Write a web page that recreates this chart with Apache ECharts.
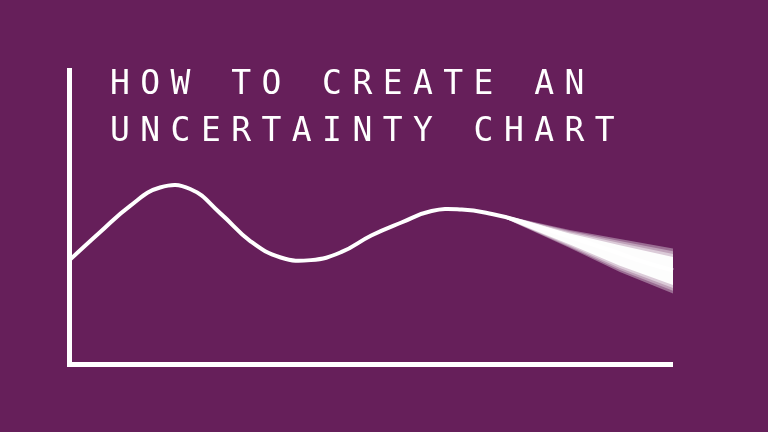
<!DOCTYPE html>
<html>
<head>
<meta charset="utf-8">
<script src="https://cdn.jsdelivr.net/npm/echarts@6/dist/echarts.min.js"></script>
<style>
html,body{margin:0;padding:0;background:#661F5A;}
#chart{width:768px;height:432px;}
</style>
</head>
<body>
<div id="chart"></div>
<script>
const TITLE_LINES = ['HOW TO CREATE AN', 'UNCERTAINTY CHART'];

// main curve (x: 0..100 along the axis, y: 0..100 up the axis)
const curveX = [0, 5, 10, 15, 20, 25, 30, 35, 40, 45, 50, 55, 60, 65, 70, 75, 80, 85, 90, 95, 100];
const curveY = [35.5, 44.9, 53.9, 60.2, 59.7, 51.4, 41.9, 36.4, 35.5, 38.2, 43.9, 48.3, 52.2, 52.7, 51.2, 48.6, 45.4, 42.0, 38.6, 35.0, 32.0];

// uncertainty fan, four nested bands (outer to inner)
const fanX = [72.2, 82.9, 91.2, 100];
const band1Low  = [49.7, 39.64, 31.5, 24.15];
const band1High = [50.7, 45.76, 42.7, 39.45];
const band2Low  = [49.7, 40.0, 32.17, 25.1];
const band2High = [50.7, 45.4, 42.03, 38.5];
const band3Low  = [49.7, 40.4, 32.85, 26.02];
const band3High = [50.7, 45.0, 41.35, 37.58];
const band4Low  = [49.7, 40.8, 33.6, 27.04];
const band4High = [50.7, 44.6, 40.6, 36.56];

const bands = [
  {low: band1Low, high: band1High, opacity: 0.35},
  {low: band2Low, high: band2High, opacity: 0.35},
  {low: band3Low, high: band3High, opacity: 0.45},
  {low: band4Low, high: band4High, opacity: 0.95}
];

const titleText = TITLE_LINES.map(l => l.split('').map(ch => '{c|' + (ch === ' ' ? '\u00a0' : ch) + '}').join('')).join('\n');

const chart = echarts.init(document.getElementById('chart'));
chart.setOption({
  backgroundColor: '#661F5A',
  animation: false,
  title: {
    left: 105, top: 57,
    text: titleText,
    textStyle: {
      fontWeight: 'normal',
      rich: {
        c: {
          width: 30.3,
          fontFamily: 'DejaVu Sans Mono',
          fontSize: 33,
          fontWeight: 'normal',
          lineHeight: 47,
          color: '#ffffff',
          textShadowColor: 'rgba(215,180,215,0.75)',
          textShadowOffsetX: 1.5,
          textShadowOffsetY: 1.5,
          textShadowBlur: 0
        }
      }
    }
  },
  grid: {left: 69.5, right: 95, top: 70.5, bottom: 67.5},
  xAxis: {
    type: 'value', min: 0, max: 100,
    axisLine: {show: true, lineStyle: {color: '#ffffff', width: 5, cap: 'butt'}},
    axisTick: {show: false}, axisLabel: {show: false}, splitLine: {show: false}
  },
  yAxis: {
    type: 'value', min: 0, max: 100,
    axisLine: {show: true, lineStyle: {color: '#ffffff', width: 5, cap: 'square'}},
    axisTick: {show: false}, axisLabel: {show: false}, splitLine: {show: false}
  },
  series: [{
    type: 'custom',
    z: 2,
    data: [[curveX[0], curveY[0]]],
    renderItem: function (params, api) {
      const pts = curveX.map((x, i) => api.coord([x, curveY[i]]));
      return {
        type: 'polyline',
        shape: {points: pts, smooth: 0.45},
        style: {stroke: '#ffffff', lineWidth: 4, fill: null, lineJoin: 'round'}
      };
    }
  }, {
    type: 'custom',
    z: 3,
    data: bands.map((b) => [fanX[0], b.low[0]]),
    renderItem: function (params, api) {
      const b = bands[params.dataIndex];
      const top = fanX.map((x, i) => api.coord([x, b.high[i]]));
      const bottom = fanX.map((x, i) => api.coord([x, b.low[i]])).reverse();
      return {
        type: 'polygon',
        shape: {points: top.concat(bottom)},
        style: {fill: '#ffffff', opacity: b.opacity}
      };
    }
  }]
});
</script>
</body>
</html>
